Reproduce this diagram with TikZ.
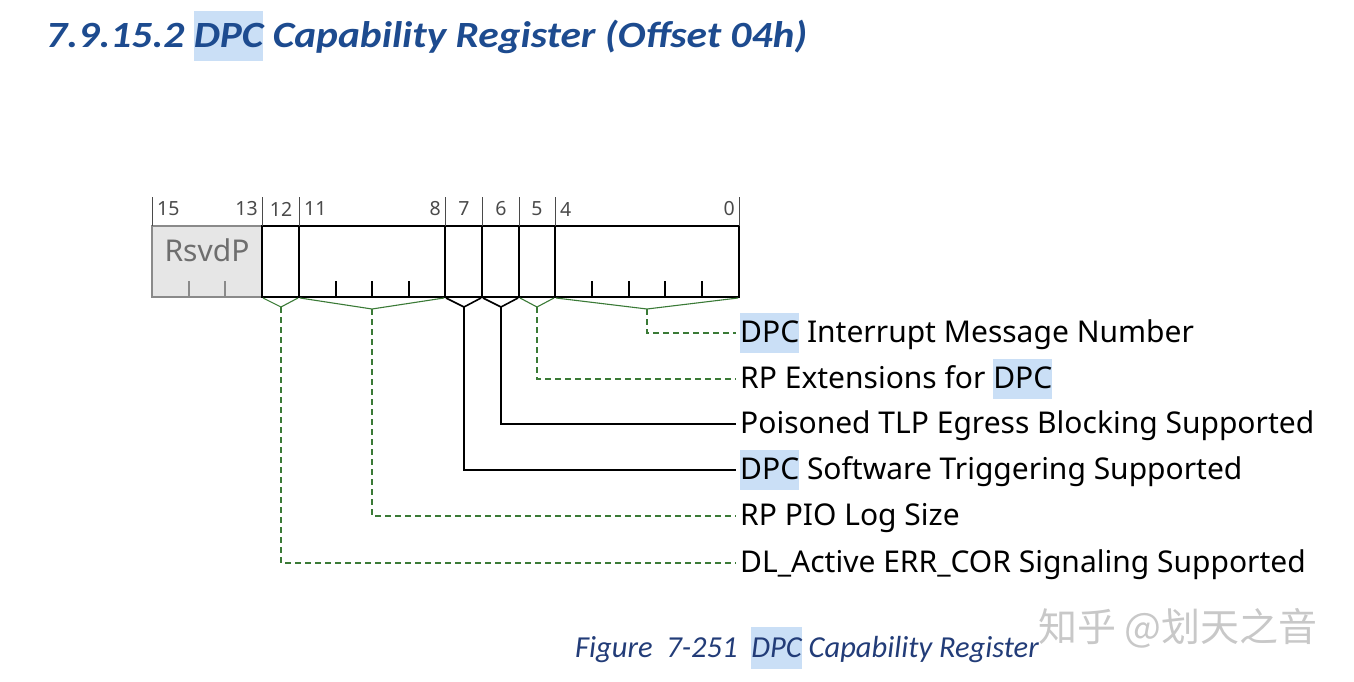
\documentclass[tikz,border=0pt]{standalone}
\usepackage{fontspec}
\setmainfont{Noto Sans}
\newfontfamily\titlefont{Carlito}[FakeStretch=1.12]
\newfontfamily\capfont{Carlito}
\newfontfamily\cjkfont{Noto Sans CJK SC}

\definecolor{titleblue}{HTML}{1D4B8F}
\definecolor{capblue}{HTML}{223C78}
\definecolor{hlblue}{HTML}{CADFF6}
\definecolor{bracegreen}{HTML}{3A7A36}
\definecolor{rsvdfill}{HTML}{E6E6E6}
\definecolor{rsvdedge}{HTML}{8A8A8A}
\definecolor{hdrgray}{HTML}{4A4A4A}
\definecolor{markgray}{HTML}{C8C8C8}

% highlighted word (the "DPC" search marks)
\newcommand{\hlword}[1]{{\setlength{\fboxsep}{0pt}\colorbox{hlblue}{\rule[-0.36em]{0pt}{1.36em}#1}}}

\begin{document}
\begin{tikzpicture}[x=1pt, y=-1pt, line join=miter,
  regline/.style={line width=2.8pt},
  tickline/.style={line width=1.4pt},
  hdrline/.style={line width=0.9pt, draw=hdrgray},
  greenbrace/.style={line width=1.1pt, draw=bracegreen},
  blackbrace/.style={line width=1.6pt},
  greenlead/.style={greenbrace, dash pattern=on 6pt off 4pt, shorten >=4pt},
  blacklead/.style={line width=1.6pt, shorten >=4pt},
  bitnum/.style={font=\fontsize{19.5}{22}\selectfont, text=hdrgray, inner sep=0pt},
  fieldlabel/.style={anchor=west, inner sep=0pt, text height=23pt, text depth=4pt,
                     font=\fontsize{30}{36}\selectfont}]

  %% ════ title ════
  \node[anchor=west, inner sep=0pt, text=titleblue,
        font=\titlefont\bfseries\itshape\fontsize{37}{44}\selectfont] (title) at (46,36)
       {7.9.15.2 \hlword{DPC} Capability Register (Offset 04h)};

  %% ════ register: RsvdP field (bits 15:13) ════
  \draw[fill=rsvdfill, draw=rsvdedge, line width=1.8pt] (152,226) rectangle (262,297);
  \node[text=rsvdedge!80!black, inner sep=0pt, font=\fontsize{30}{34}\selectfont] (rsvd) at (207,250) {RsvdP};
  \draw[line width=1.2pt, draw=rsvdedge] (189,281) -- (189,297);
  \draw[line width=1.2pt, draw=rsvdedge] (225,281) -- (225,297);

  %% ════ register: outline and field borders ════
  \draw[regline] (262,226) rectangle (739,297);
  \draw[regline] (299,226) -- (299,297);
  \draw[regline] (445,226) -- (445,297);
  \draw[regline] (482,226) -- (482,297);
  \draw[regline] (519,226) -- (519,297);
  \draw[regline] (555,226) -- (555,297);

  %% ════ bit ticks inside multi-bit fields ════
  \draw[tickline] (336,281) -- (336,297);
  \draw[tickline] (372,281) -- (372,297);
  \draw[tickline] (409,281) -- (409,297);
  \draw[tickline] (592,281) -- (592,297);
  \draw[tickline] (629,281) -- (629,297);
  \draw[tickline] (665,281) -- (665,297);
  \draw[tickline] (702,281) -- (702,297);

  %% ════ header: bit numbers ════
  \draw[hdrline] (152,197) -- (152,226);
  \draw[hdrline] (262,197) -- (262,226);
  \draw[hdrline] (299,197) -- (299,226);
  \draw[hdrline] (445,197) -- (445,226);
  \draw[hdrline] (482,197) -- (482,226);
  \draw[hdrline] (519,197) -- (519,226);
  \draw[hdrline] (555,197) -- (555,226);
  \draw[hdrline] (739,197) -- (739,226);
  \node[bitnum, anchor=west] (n15) at (157,209) {15};
  \node[bitnum, anchor=east] (n13) at (258,209) {13};
  \node[bitnum]              (n12) at (281,209) {12};
  \node[bitnum, anchor=west] (n11) at (304,209) {11};
  \node[bitnum, anchor=east] (n8)  at (441,209) {8};
  \node[bitnum]              (n7)  at (464,209) {7};
  \node[bitnum]              (n6)  at (501,209) {6};
  \node[bitnum]              (n5)  at (537,209) {5};
  \node[bitnum, anchor=west] (n4)  at (560,209) {4};
  \node[bitnum, anchor=east] (n0)  at (735,209) {0};

  %% ════ field braces under the register ════
  \coordinate (b12) at (281,307);
  \coordinate (b118) at (372,309);
  \coordinate (b7) at (464,307);
  \coordinate (b6) at (501,307);
  \coordinate (b5) at (537,307);
  \coordinate (b40) at (647,309);
  \draw[greenbrace] (263,298) -- (b12) -- (298,298);
  \draw[greenbrace] (300,298) -- (b118) -- (444,298);
  \draw[blackbrace] (446,298) -- (b7) -- (481,298);
  \draw[blackbrace] (483,298) -- (b6) -- (518,298);
  \draw[greenbrace] (520,298) -- (b5) -- (554,298);
  \draw[greenbrace] (556,298) -- (b40) -- (738,298);

  %% ════ field names ════
  \node[fieldlabel] (intmsg) at (740,333) {\hlword{DPC} Interrupt Message Number};
  \node[fieldlabel] (rpext)  at (740,379) {RP Extensions for \hlword{DPC}};
  \node[fieldlabel] (poison) at (740,424) {Poisoned TLP Egress Blocking Supported};
  \node[fieldlabel] (swtrig) at (740,470) {\hlword{DPC} Software Triggering Supported};
  \node[fieldlabel] (piolog) at (740,516) {RP PIO Log Size};
  \node[fieldlabel] (dlact)  at (740,563) {DL\_Active ERR\_COR Signaling Supported};

  %% ════ leaders: brace tip -> field name ════
  \draw[greenlead] (b40) |- (intmsg.west);
  \draw[greenlead] (b5) |- (rpext.west);
  \draw[blacklead] (b6) |- (poison.west);
  \draw[blacklead] (b7) |- (swtrig.west);
  \draw[greenlead] (b118) |- (piolog.west);
  \draw[greenlead] (b12) |- (dlact.west);

  %% ════ caption + watermark ════
  \node[anchor=west, inner sep=0pt, text=capblue,
        font=\capfont\itshape\fontsize{30.5}{36}\selectfont] (caption) at (575,648)
       {Figure\ \ 7-251\ \ \hlword{DPC} Capability Register};
  \node[anchor=west, inner sep=0pt, text=markgray,
        font=\cjkfont\fontsize{39}{44}\selectfont] (mark) at (1038,628) {知乎 @划天之音};

  % fix the canvas to the reference size
  \pgfresetboundingbox
  \path[use as bounding box] (0,0) rectangle (1354,682);
\end{tikzpicture}
\end{document}
